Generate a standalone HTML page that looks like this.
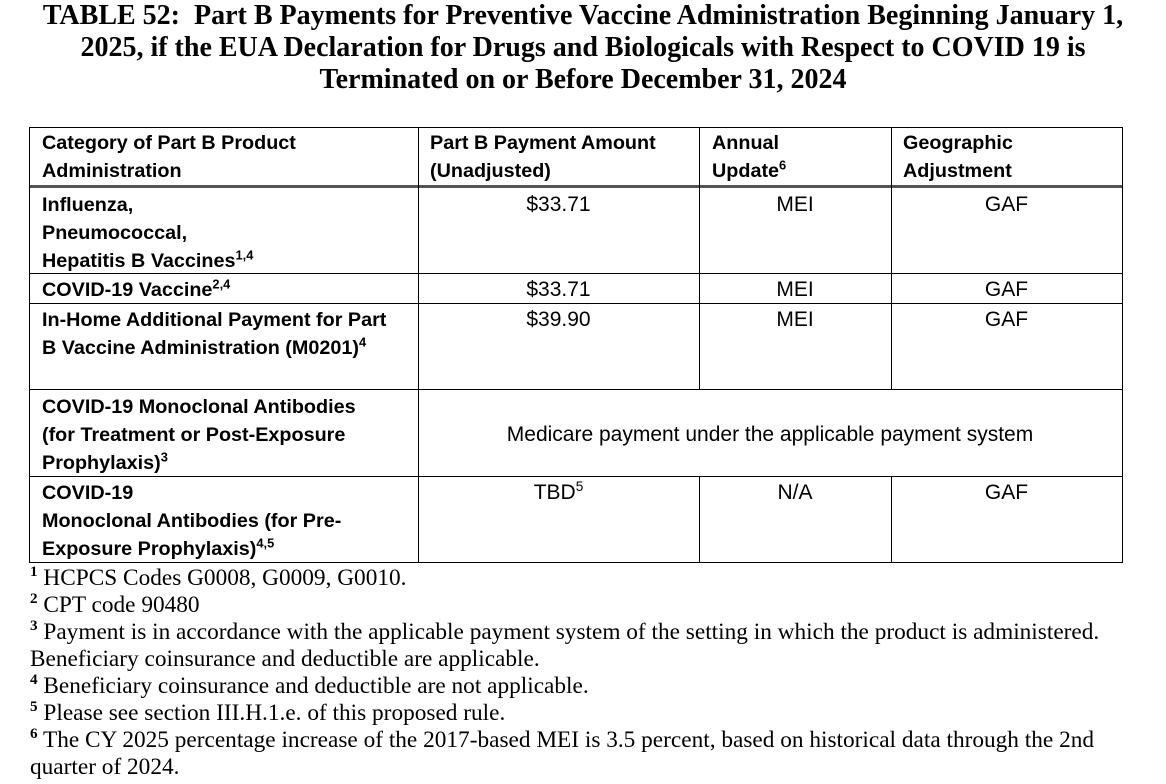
<!DOCTYPE html>
<html><head><meta charset="utf-8"><style>
body{margin:0;width:1166px;height:784px;background:#fff;position:relative;overflow:hidden;color:#000}
.t{position:absolute;left:0;width:1166px;text-align:center;font:bold 28px/32px "Liberation Serif",serif}
.c{position:absolute;font:21px/28px "Liberation Sans",sans-serif;white-space:nowrap}
.b{font-weight:bold;font-size:19.8px}
.h{position:absolute;background:#000}
.f{position:absolute;left:30px;font:23.3px/27px "Liberation Serif",serif;white-space:nowrap}
sup{font-size:65%;line-height:0;vertical-align:super}
.f sup{font-weight:bold}
.ctr{text-align:center}
</style></head><body>
<div class="t" style="top:0">TABLE 52:&nbsp; Part B Payments for Preventive Vaccine Administration Beginning January 1,</div>
<div class="t" style="top:32px">2025, if the EUA Declaration for Drugs and Biologicals with Respect to COVID 19 is</div>
<div class="t" style="top:64px">Terminated on or Before December 31, 2024</div>

<div class="h" style="left:29px;top:127px;width:1094px;height:1px"></div>
<div class="h" style="left:29px;top:185px;width:1094px;height:3px;background:#555"></div>
<div class="h" style="left:29px;top:273px;width:1094px;height:1px"></div>
<div class="h" style="left:29px;top:303px;width:1094px;height:1px"></div>
<div class="h" style="left:29px;top:389px;width:1094px;height:1px"></div>
<div class="h" style="left:29px;top:476px;width:1094px;height:1px"></div>
<div class="h" style="left:29px;top:562px;width:1094px;height:1px"></div>
<div class="h" style="left:29px;top:127px;width:1px;height:436px"></div>
<div class="h" style="left:1122px;top:127px;width:1px;height:436px"></div>
<div class="h" style="left:418px;top:127px;width:1px;height:436px"></div>
<div class="h" style="left:699px;top:127px;width:1px;height:263px"></div>
<div class="h" style="left:891px;top:127px;width:1px;height:263px"></div>
<div class="h" style="left:699px;top:476px;width:1px;height:87px"></div>
<div class="h" style="left:891px;top:476px;width:1px;height:87px"></div>

<div class="c b" style="left:42px;top:129px">Category of Part B Product<br>Administration</div>
<div class="c b" style="left:430px;top:129px">Part B Payment Amount<br>(Unadjusted)</div>
<div class="c b" style="left:712px;top:129px">Annual<br>Update<sup>6</sup></div>
<div class="c b" style="left:903px;top:129px">Geographic<br>Adjustment</div>

<div class="c b" style="left:42px;top:191px">Influenza,<br>Pneumococcal,<br>Hepatitis B Vaccines<sup>1,4</sup></div>
<div class="c ctr" style="left:418px;width:281px;top:191px">$33.71</div>
<div class="c ctr" style="left:699px;width:192px;top:191px">MEI</div>
<div class="c ctr" style="left:891px;width:231px;top:191px">GAF</div>

<div class="c b" style="left:42px;top:276px">COVID-19 Vaccine<sup>2,4</sup></div>
<div class="c ctr" style="left:418px;width:281px;top:276px">$33.71</div>
<div class="c ctr" style="left:699px;width:192px;top:276px">MEI</div>
<div class="c ctr" style="left:891px;width:231px;top:276px">GAF</div>

<div class="c b" style="left:42px;top:306px">In-Home Additional Payment for Part<br>B Vaccine Administration (M0201)<sup>4</sup></div>
<div class="c ctr" style="left:418px;width:281px;top:306px">$39.90</div>
<div class="c ctr" style="left:699px;width:192px;top:306px">MEI</div>
<div class="c ctr" style="left:891px;width:231px;top:306px">GAF</div>

<div class="c b" style="left:42px;top:393px">COVID-19 Monoclonal Antibodies<br>(for Treatment or Post-Exposure<br>Prophylaxis)<sup>3</sup></div>
<div class="c ctr" style="left:418px;width:704px;top:421px">Medicare payment under the applicable payment system</div>

<div class="c b" style="left:42px;top:479px">COVID-19<br>Monoclonal Antibodies (for Pre-<br>Exposure Prophylaxis)<sup>4,5</sup></div>
<div class="c ctr" style="left:418px;width:281px;top:479px">TBD<sup>5</sup></div>
<div class="c ctr" style="left:699px;width:192px;top:479px">N/A</div>
<div class="c ctr" style="left:891px;width:231px;top:479px">GAF</div>

<div class="f" style="top:565px"><sup>1</sup> HCPCS Codes G0008, G0009, G0010.</div>
<div class="f" style="top:592px"><sup>2</sup> CPT code 90480</div>
<div class="f" style="top:619px"><sup>3</sup> Payment is in accordance with the applicable payment system of the setting in which the product is administered.</div>
<div class="f" style="top:646px">Beneficiary coinsurance and deductible are applicable.</div>
<div class="f" style="top:673px"><sup>4</sup> Beneficiary coinsurance and deductible are not applicable.</div>
<div class="f" style="top:700px"><sup>5</sup> Please see section III.H.1.e. of this proposed rule.</div>
<div class="f" style="top:727px"><sup>6</sup> The CY 2025 percentage increase of the 2017-based MEI is 3.5 percent, based on historical data through the 2nd</div>
<div class="f" style="top:754px">quarter of 2024.</div>
</body></html>
